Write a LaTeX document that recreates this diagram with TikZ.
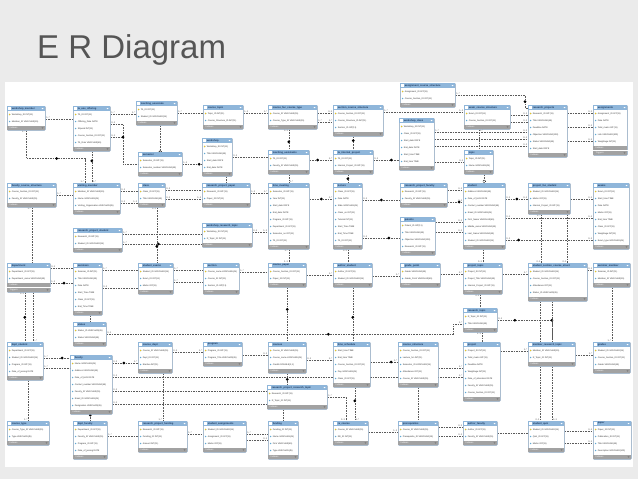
\documentclass[tikz,border=0pt]{standalone}
\usepackage{fontspec}
\setmainfont{Liberation Sans}
\usetikzlibrary{shapes.geometric}

\definecolor{pagebg}{HTML}{EBEBEB}
\definecolor{titlegray}{HTML}{555555}
\definecolor{headc}{HTML}{8FB6DA}
\definecolor{tabline}{HTML}{7F9AB6}
\definecolor{footc}{HTML}{A2A2A2}
\definecolor{tabtext}{HTML}{333333}
\definecolor{titleblue}{HTML}{17365D}
\definecolor{relc}{HTML}{5A5A5A}
\definecolor{cardc}{HTML}{444444}
\definecolor{icoc}{HTML}{5FA8D3}
\definecolor{keyc}{HTML}{F0C419}

\pgfdeclarelayer{back}
\pgfdeclarelayer{links}
\pgfsetlayers{back,links,main}

% table: name, x, y, width, rows, title, fields, footer bars
\newcommand{\ertable}[8]{%
  \pgfmathsetmacro{\tabh}{10+7*#5+5*(#8-1)}%
  \node[tabbody, minimum width=#4pt, minimum height=\tabh pt] (#1) at (#2,#3) {};
  \fill[headbar] ([xshift=0.3pt,yshift=-0.3pt]#1.north west) rectangle ([xshift=-0.3pt,yshift=-5pt]#1.north east);
  \fill[white] ([xshift=1.2pt,yshift=-1.3pt]#1.north west) rectangle ++(2.4pt,-2.4pt);
  \fill[white] ([xshift=-4pt,yshift=-2pt]#1.north east) -- ++(2.2pt,0pt) -- ++(-1.1pt,-1.2pt) -- cycle;
  \node[tabtitle] at ([xshift=4.6pt,yshift=-2.55pt]#1.north west) {#6};
  \foreach \r [count=\i] in {#7} {
    \pgfmathsetmacro{\ry}{-1.5-7*\i}
    \node[ico] at ([xshift=2.6pt,yshift=\ry pt]#1.north west) {};
    \node[tabrow] at ([xshift=4.6pt,yshift=\ry pt]#1.north west) {\r};
  }
  \node[keyico] at ([xshift=2.6pt,yshift=-8.5pt]#1.north west) {};
  \pgfmathsetmacro{\tabf}{5*#8}%
  \pgfmathsetmacro{\tabg}{5*#8-2.5}%
  \fill[footbar] ([xshift=0.3pt,yshift=\tabf pt]#1.south west) rectangle ([xshift=-0.3pt,yshift=0.3pt]#1.south east);
  \node[footlabel] at ([xshift=2.5pt,yshift=\tabg pt]#1.south west) {Indexes};
  \ifnum#8>1
    \draw[white, line width=0.3pt] ([yshift=5pt]#1.south west) -- ([yshift=5pt]#1.south east);
    \node[footlabel] at ([xshift=2.5pt,yshift=2.5pt]#1.south west) {Triggers};
  \fi
  \fill[black!55] ([xshift=-4pt,yshift=3.1pt]#1.south east) -- ++(2pt,0pt) -- ++(-1pt,-1.2pt) -- cycle;
}

\begin{document}
\begin{tikzpicture}[x=1pt, y=-1pt,
  tabbody/.style={draw=tabline, fill=white, line width=0.5pt, rounded corners=0.8pt, anchor=north west, inner sep=0pt},
  headbar/.style={fill=headc},
  footbar/.style={fill=footc},
  tabtitle/.style={anchor=west, inner sep=0pt, font=\fontsize{2.5}{3}\selectfont\bfseries, text=titleblue},
  tabrow/.style={anchor=west, inner sep=0pt, font=\fontsize{2.2}{3}\selectfont, text=tabtext},
  footlabel/.style={anchor=west, inner sep=0pt, font=\fontsize{2.2}{3}\selectfont, text=white},
  ico/.style={diamond, fill=icoc, inner sep=0pt, minimum size=1.8pt},
  keyico/.style={ico, fill=keyc},
  rel/.style={draw=relc, dash pattern=on 1.6pt off 1pt, line width=0.5pt},
  card/.style={font=\fontsize{2.3}{2.6}\selectfont, text=cardc, inner sep=0.5pt},
  lbs/.style={card, pos=0, anchor=south west},
  lbe/.style={card, pos=1, anchor=south east},
  lvs/.style={card, pos=0, anchor=north east},
  lve/.style={card, pos=1, anchor=south east},
  lvr/.style={card, pos=1, anchor=south west},
  mk/.style={circle, fill=black, inner sep=0pt, minimum size=3pt},
  mko/.style={circle, draw=black, fill=white, line width=0.4pt, inner sep=0pt, minimum size=3pt}]
  \useasboundingbox (0,0) rectangle (638,479);

  % 1. page and panel
  \begin{pgfonlayer}{back}
    \fill[pagebg] (0,0) rectangle (638,479);
    \fill[white] (5,82) rectangle (633,467);
  \end{pgfonlayer}
  \node[anchor=base west, inner sep=0pt, font=\fontsize{33}{36}\selectfont, text=titlegray] (title) at (37,58) {E R Diagram};

  % 2. tables, top bands
  \ertable{wm}{7}{106}{38}{2}{workshop\_member}{Workshop\_ID INT(11), Member\_ID VARCHAR(15)}{1}
  \ertable{tuo}{73}{106}{37}{5}{ta\_use\_offering}{TA\_ID INT(11), Offering\_Date DATE, Stipend INT(11), Course\_Section\_ID INT(11), TA\_Role VARCHAR(45)}{1}
  \ertable{tassoc}{136}{101}{41}{2}{teaching\_associate}{TA\_ID INT(11), Student\_ID VARCHAR(15)}{1}
  \ertable{ctopic}{203}{105}{40}{2}{course\_topic}{Topic\_ID INT(11), Course\_Structure\_ID INT(11)}{1}
  \ertable{cfct}{268}{105}{49}{2}{course\_fac\_course\_type}{Course\_ID VARCHAR(15), Course\_Type\_ID VARCHAR(15)}{1}
  \ertable{scs}{333}{105}{50}{3}{section\_course\_structure}{Course\_Section\_ID INT(11), Course\_Structure\_ID INT(11), Section\_ID INT(11)}{1}
  \ertable{acs}{400}{83}{55}{2}{assignment\_course\_structure}{Assignment\_ID INT(11), Course\_Section\_ID INT(11)}{1}
  \ertable{wclass}{399}{118}{35}{6}{workshop\_class}{Workshop\_ID INT(11), Class\_ID INT(11), Start\_date DATE, End\_date DATE, Start\_time TIME, End\_time TIME}{1}
  \ertable{ecs}{464}{105}{46}{2}{exam\_course\_structure}{Exam\_ID INT(11), Course\_Section\_ID INT(11)}{1}
  \ertable{topic}{464}{150}{29}{2}{topic}{Topic\_ID INT(11), Name VARCHAR(45)}{1}
  \ertable{rproj}{528}{105}{39}{6}{research\_projects}{Research\_ID INT(11), Title VARCHAR(45), Deadline DATE, Objective VARCHAR(100), Status VARCHAR(45), Start\_date DATE}{1}
  \ertable{asg}{593}{105}{34}{5}{assignments}{Assignment\_ID INT(11), Date DATE, Total\_marks INT(11), Link VARCHAR(100), Weightage INT(11)}{2}
  \ertable{sem}{138}{152}{44}{2}{semester}{Semester\_ID INT(11), Semester\_number VARCHAR(45)}{1}
  \ertable{wshop}{202}{138}{30}{4}{workshop}{Workshop\_ID INT(11), Title VARCHAR(45), Start\_date DATE, End\_date DATE}{1}
  \ertable{tass}{268}{150}{41}{2}{teaching\_assistants}{TA\_ID INT(11), Faculty\_ID VARCHAR(15)}{1}
  \ertable{taip}{333}{150}{40}{2}{ta\_internal\_project}{TA\_ID INT(11), Internal\_Project\_ID INT(11)}{1}

  % 3. tables, middle bands
  \ertable{fcs}{7}{183}{49}{2}{faculty\_course\_structure}{Course\_Section\_ID INT(11), Faculty\_ID VARCHAR(15)}{1}
  \ertable{vmem}{73}{183}{47}{3}{visiting\_member}{Member\_ID VARCHAR(15), Name VARCHAR(45), Visiting\_Organisation VARCHAR(45)}{1}
  \ertable{cls}{138}{183}{27}{2}{class}{Class\_ID INT(11), Title VARCHAR(45)}{1}
  \ertable{rpp}{202}{183}{48}{2}{research\_project\_paper}{Research\_ID INT(11), Paper\_ID INT(11)}{1}
  \ertable{tmeet}{268}{183}{41}{8}{time\_meeting}{Semester\_ID INT(11), Year INT(11), Start\_date DATE, End\_date DATE, Program\_ID INT(11), Department\_ID INT(11), Semester\_no INT(11), TA\_ID INT(11)}{1}
  \ertable{lect}{333}{183}{29}{8}{lecture}{Class\_ID INT(11), Date DATE, Slide VARCHAR(45), Class\_no INT(11), Tutorial INT(11), Start\_Time TIME, End\_Time TIME, TA\_ID INT(11)}{1}
  \ertable{rpf}{400}{183}{47}{2}{research\_project\_faculty}{Research\_ID INT(11), Faculty\_ID VARCHAR(15)}{1}
  \ertable{stu}{463}{183}{42}{8}{student}{Address VARCHAR(45), Date\_of\_birth DATE, Contact\_number VARCHAR(45), Email\_ID VARCHAR(45), First\_Name VARCHAR(45), Middle\_name VARCHAR(45), Last\_Name VARCHAR(45), Student\_ID VARCHAR(15)}{1}
  \ertable{pfs}{528}{183}{42}{3}{project\_fac\_student}{Student\_ID VARCHAR(15), Marks INT(11), Internal\_Project\_ID INT(11)}{1}
  \ertable{exams}{593}{183}{36}{8}{exams}{Exam\_ID INT(11), Start\_time TIME, Date DATE, Marks INT(11), End\_time TIME, Class\_ID INT(11), Weightage INT(11), Exam\_type VARCHAR(45)}{1}
  \ertable{rps}{73}{228}{49}{2}{research\_project\_student}{Research\_ID INT(11), Student\_ID VARCHAR(15)}{1}
  \ertable{wrt}{202}{223}{50}{2}{workshop\_research\_topic}{Workshop\_ID INT(11), R\_Topic\_ID INT(11)}{1}
  \ertable{pat}{400}{217}{35}{4}{patents}{Patent\_ID INT(11), Title VARCHAR(45), Objective VARCHAR(100), Research\_ID INT(11)}{1}
  \ertable{dept}{7}{263}{43}{2}{department}{Department\_ID INT(11), Department\_name VARCHAR(45)}{2}
  \ertable{semi}{73}{263}{29}{6}{seminars}{Seminar\_ID INT(11), Title VARCHAR(45), Date DATE, Start\_Time TIME, Class\_ID INT(11), End\_Time TIME}{1}
  \ertable{sexam}{138}{263}{35}{3}{student\_exams}{Student\_ID VARCHAR(15), Exam\_ID INT(11), Marks INT(11)}{1}
  \ertable{sect}{203}{263}{36}{3}{section}{Course\_name VARCHAR(45), Course\_ID INT(11), Section\_ID INT(11)}{1}
  \ertable{cpaper}{268}{263}{38}{2}{course\_paper}{Course\_Section\_ID INT(11), Paper\_ID INT(11)}{1}
  \ertable{aust}{333}{263}{39}{2}{author\_student}{Author\_ID INT(11), Student\_ID VARCHAR(15)}{1}
  \ertable{gpt}{400}{263}{40}{2}{grade\_point}{Grade VARCHAR(45), Grade\_Point VARCHAR(45)}{1}
  \ertable{ptopic}{463}{263}{39}{3}{project\_topic}{Project\_ID INT(11), Project\_Title VARCHAR(45), Internal\_Project\_ID INT(11)}{1}
  \ertable{sscs}{528}{263}{59}{4}{student\_section\_course\_struct}{Student\_ID VARCHAR(15), Course\_Section\_ID INT(11), Attendance INT(11), Status\_ID VARCHAR(45)}{1}
  \ertable{smem}{593}{263}{37}{2}{seminar\_member}{Seminar\_ID INT(11), Member\_ID VARCHAR(15)}{1}
  \ertable{status}{73}{322}{33}{2}{status}{Status\_ID VARCHAR(45), Status VARCHAR(45)}{1}
  \ertable{rtopic}{463}{308}{34}{2}{research\_topic}{R\_Topic\_ID INT(11), Title VARCHAR(45)}{1}

  % 4. tables, bottom bands
  \ertable{dstu}{7}{342}{36}{4}{dept\_student}{Department\_ID INT(11), Student\_ID VARCHAR(15), Program\_ID INT(11), Date\_of\_joining DATE}{1}
  \ertable{fac}{70}{355}{42}{7}{faculty}{Name VARCHAR(45), Address VARCHAR(45), Date\_of\_birth DATE, Contact\_number VARCHAR(45), Faculty\_ID VARCHAR(15), Email\_ID VARCHAR(45), Designation VARCHAR(45)}{1}
  \ertable{cdept}{138}{342}{34}{3}{course\_dept}{Course\_ID VARCHAR(15), Dept\_ID INT(11), Elective INT(11)}{1}
  \ertable{prog}{203}{342}{39}{2}{program}{Program\_ID INT(11), Program\_Title VARCHAR(45)}{1}
  \ertable{crs}{268}{342}{38}{3}{courses}{Course\_ID VARCHAR(15), Course\_name VARCHAR(45), {Credits DOUBLE(2,1)}}{1}
  \ertable{tsch}{333}{342}{37}{5}{time\_schedule}{Start\_time TIME, End\_time TIME, Course\_Section\_ID INT(11), Day VARCHAR(45), Class\_ID INT(11)}{1}
  \ertable{cstr}{398}{342}{40}{5}{course\_structure}{Course\_Section\_ID INT(11), Lecture\_hrs INT(11), Semester\_ID VARCHAR(15), Attendance INT(11), Course\_ID VARCHAR(15)}{1}
  \ertable{proj}{463}{342}{37}{7}{project}{Project\_ID INT(11), Total\_marks INT(11), Deadline DATE, Weightage INT(11), Date\_of\_allocation DATE, Faculty\_ID VARCHAR(15), Course\_Section\_ID INT(11)}{1}
  \ertable{mrt}{528}{342}{47}{2}{member\_research\_topic}{Member\_ID VARCHAR(15), R\_Topic\_ID INT(11)}{1}
  \ertable{grades}{593}{342}{37}{3}{grades}{Student\_ID VARCHAR(15), Course\_Section\_ID INT(11), Grade VARCHAR(45)}{1}
  \ertable{rprt}{267}{385}{60}{2}{research\_project\_research\_topic}{Research\_ID INT(11), R\_Topic\_ID INT(11)}{1}
  \ertable{ctype}{7}{421}{42}{2}{course\_type}{Course\_Type\_ID VARCHAR(15), Type VARCHAR(45)}{1}
  \ertable{dfac}{73}{421}{34}{4}{dept\_faculty}{Department\_ID INT(11), Faculty\_ID VARCHAR(15), Program\_ID INT(11), Date\_of\_joining DATE}{1}
  \ertable{rpfund}{138}{421}{49}{3}{research\_project\_funding}{Research\_ID INT(11), Funding\_ID INT(11), Amount INT(11)}{1}
  \ertable{sasg}{203}{421}{43}{3}{student\_assignments}{Student\_ID VARCHAR(15), Assignment\_ID INT(11), Marks INT(11)}{1}
  \ertable{fund}{268}{421}{30}{4}{funding}{Funding\_ID INT(11), Name VARCHAR(45), Firm VARCHAR(45), Type VARCHAR(45)}{1}
  \ertable{recrs}{333}{421}{35}{2}{re\_course}{Course\_ID VARCHAR(15), RE\_ID INT(11)}{1}
  \ertable{prereq}{398}{421}{40}{2}{prerequisites}{Course\_ID VARCHAR(15), Prerequisite\_ID VARCHAR(15)}{1}
  \ertable{aufac}{463}{421}{34}{2}{author\_faculty}{Author\_ID INT(11), Faculty\_ID VARCHAR(15)}{1}
  \ertable{squiz}{528}{421}{36}{3}{student\_quiz}{Student\_ID VARCHAR(15), Quiz\_ID INT(11), Marks INT(11)}{1}
  \ertable{paper}{593}{421}{38}{4}{paper}{Paper\_ID INT(11), Publication\_ID INT(11), Title VARCHAR(45), Description VARCHAR(100)}{1}

  % 5. relationships (drawn under the tables)
  \begin{pgfonlayer}{links}
    % top band
    \draw[rel] (wm.east |- 0,119) -- (tuo.west |- 0,119) node[lbs]{1..*};
    \draw[rel] (tuo.east |- 0,114) -- (tassoc.west |- 0,114) node[lbs]{1..*} node[lbe]{1..*};
    \draw[rel] (tassoc.east |- 0,113) -- (ctopic.west |- 0,113) node[lbs]{1..*};
    \draw[rel] (ctopic.east |- 0,113) -- (cfct.west |- 0,113) node[lbs]{1..1} node[lbe]{1..*};
    \draw[rel] (cfct.east |- 0,113) -- (scs.west |- 0,113) node[lbe]{0..1};
    \draw[rel] (cfct.east |- 0,122) -- (scs.west |- 0,122) node[lbs]{1..*} node[lbe]{1..*};
    \draw[rel] (scs.east |- 0,112) -- (ecs.west |- 0,112) node[lbs]{1..*} node[lbe]{1..1};
    \draw[rel] (acs.east) -| ([xshift=-3pt]rproj.west |- 0,108) node[lbs]{1..*} node[mk, pos=0.75]{} -- (rproj.west |- 0,108);
    \draw[rel] (ecs.east |- 0,115) -- (rproj.west |- 0,115) node[lbe]{0..1};
    \draw[rel] (ecs.east |- 0,122) -- (rproj.west |- 0,122) node[lbe]{0..1};
    \draw[rel] (wclass.east |- 0,132) -- (rproj.west |- 0,132) node[lbs]{1..*} node[lbe]{0..1};
    \draw[rel] (wclass.east |- 0,139) -- (rproj.west |- 0,139) node[lbe]{0..1};
    \draw[rel] (wclass.east |- 0,146) -- (rproj.west |- 0,146) node[lbe]{0..1};
    \draw[rel] (topic.north |- ecs.south) -- (topic.north) node[card, pos=0, anchor=north west]{1..*};
    \draw[rel] (wclass.east |- 0,162) -- (topic.west |- 0,162) node[lbe]{0..1};
    \draw[rel] (rproj.east |- 0,113) -- (asg.west |- 0,113) node[lbe]{0..1};
    \draw[rel] (rproj.east |- 0,127) -- (asg.west |- 0,127) node[lbe]{0..1};
    \draw[rel] (rproj.east |- 0,141) -- (asg.west |- 0,141) node[lbe]{0..1};
    % second band
    \draw[rel] (tuo.east |- 0,124) -| ([xshift=-15pt]sem.west) node[lbs]{0..1} -- (sem.west);
    \coordinate (jta) at ([xshift=-15pt]sem.west |- 0,137);
    \draw[rel] (tuo.east |- 0,137) -- (jta) node[lbs]{0..1} node[mk, pos=1]{};
    \draw[rel] (tassoc.south -| sem.north) -- (sem.north) node[mko, pos=1]{};
    \draw[rel] (sem.east) -- (wshop.west |- sem.east) node[lbs]{1..1} node[mk, pos=0.85]{};
    \draw[rel] (wshop.east |- 0,157) -- (tass.west |- 0,157) node[lbs]{0..1};
    \draw[rel] (tass.north |- cfct.south) -- (tass.north) node[lvs]{0..1} node[mk, pos=0.6]{};
    \draw[rel] (taip.north |- scs.south) -- (taip.north) node[mk, pos=0.3]{};
    \draw[rel] (tass.east |- 0,160) -- (taip.west |- 0,160) node[mk, pos=0.35]{} node[lbe]{1..*};
    \draw[rel] (taip.east |- 0,160) -- (wclass.west |- 0,160) node[lbs]{0..1} node[mk, pos=0.7]{};
    % third band
    \draw[rel] (fcs.east |- 0,195) -- (vmem.west |- 0,195) node[lbs]{1..*};
    \draw[rel] (fcs.south) -- (fcs.south |- dept.north) node[lvs]{1..*};
    \draw[rel] (wm.south) -- ++(0,28) node[lvs]{1..*} -| ([xshift=-12pt]vmem.north) node[lve]{1..*} node[mk, pos=0.26]{};
    \draw[rel] (tuo.south) -- (tuo.south |- vmem.north) node[mk, pos=0.3]{} node[lvr]{1..*};
    \draw[rel] (vmem.east |- 0,191) -- (cls.west |- 0,191) node[lbs]{0..1};
    \draw[rel] (vmem.east |- 0,203) -- (cls.west |- 0,203) node[lbs]{0..1} node[lbe]{1..1};
    \draw[rel] (cls.east |- 0,190) -- (rpp.west |- 0,190) node[lbs]{0..1};
    \draw[rel] (cls.east |- 0,199) -- (rpp.west |- 0,199) node[lbs]{0..1} node[lbe]{1..1};
    \draw[rel] (rpp.east |- 0,193) -- (tmeet.west |- 0,193) node[lbs]{1..1} node[lbe]{1..*};
    \draw[rel] (tmeet.east |- 0,199) -- (lect.west |- 0,199) node[mk, pos=0.5]{} node[lbe]{1..*};
    \draw[rel] (wrt.east |- 0,232) -- (tmeet.west |- 0,232) node[lbs]{0..1} node[lbe]{1..1};
    \draw[rel] (rps.east |- 0,234) -- (wrt.west |- 0,234) node[lbs]{1..*};
    \draw[rel] (rps.east |- 0,244) -- (wrt.west |- 0,244) node[lbs]{1..*} node[mk, pos=0.45]{};
    \draw[rel] ([xshift=5pt]cls.south) -- ([xshift=5pt]cls.south |- sexam.north) node[lvs]{0..1} node[mk, pos=0.7]{};
    \draw[rel] (tmeet.south) -- (tmeet.south |- cpaper.north) node[lvs]{1..*} node[lve]{1..1};
    \draw[rel] (lect.south) -- (lect.south |- aust.north) node[lvs]{0..1};
    \draw[rel] (lect.east |- 0,200) -- (rpf.west |- 0,200) node[lbs]{0..1} node[mk, pos=0.5]{};
    \draw[rel] (lect.east |- 0,238) -- (pat.west |- 0,238) node[lbs]{0..1} node[mk, pos=0.7]{};
    \draw[rel] (rpf.east |- 0,190) -- (stu.west |- 0,190) node[lbe]{0..1};
    \draw[rel] (rpf.east |- 0,202) -- (stu.west |- 0,202) node[lbe]{0..1} node[mk, pos=0.75]{};
    \draw[rel] (pat.east |- 0,222) -- (stu.west |- 0,222) node[lbe]{0..1};
    \draw[rel] (pat.east |- 0,232) -- (stu.west |- 0,232) node[lbe]{0..1};
    \draw[rel] (stu.east |- 0,199) -- (pfs.west |- 0,199) node[lbs]{0..1} node[mk, pos=0.5]{} node[lbe]{0..1};
    \draw[rel] (pfs.east |- 0,199) -- (exams.west |- 0,199) node[lbe]{0..1};
    \draw[rel] (stu.east |- 0,218) -- (exams.west |- 0,218) node[lbs]{0..1} node[lbe]{0..1};
    \draw[rel] (stu.east |- 0,240) -- (exams.west |- 0,240) node[lbs]{0..1} node[mk, pos=0.15]{} node[lbe]{0..1};
    \draw[rel] ([xshift=-8pt]pfs.south) -- ([xshift=-8pt]pfs.south |- sscs.north) node[lvs]{1..*} node[lve]{0..1};
    \draw[rel] ([xshift=18pt]pfs.south) -- ([xshift=18pt]pfs.south |- sscs.north) node[lve]{0..1};
    \draw[rel] (ptopic.north |- stu.south) -- (ptopic.north) node[lve]{0..1};
    \draw[rel] (stu.north |- topic.south) -- (stu.north) node[mko, pos=0.8]{};
    % fourth band
    \draw[rel] (dept.east |- 0,268) -- (semi.west |- 0,268) node[lbs]{0..1};
    \draw[rel] (dept.east |- 0,283) -- (semi.west |- 0,283) node[lbs]{1..1} node[mk, pos=0.6]{};
    \draw[rel] (semi.east |- 0,270) -- (sexam.west |- 0,270) node[lbs]{1..*};
    \draw[rel] (semi.east |- 0,288) -- (sexam.west |- 0,288) node[lbs]{0..1};
    \draw[rel] (sexam.east |- 0,270) -- (sect.west |- 0,270) node[lbs]{1..*};
    \draw[rel] (sexam.east |- 0,282) -- (sect.west |- 0,282) node[lbs]{1..*};
    \draw[rel] (sect.east |- 0,272) -- (cpaper.west |- 0,272) node[lbs]{1..*};
    \draw[rel] (cpaper.east |- 0,275) -- (aust.west |- 0,275) node[lbe]{1..*};
    \draw[rel] (aust.east |- 0,276) -- (gpt.west |- 0,276) node[lbe]{1..*};
    \draw[rel] (gpt.east |- 0,274) -- (ptopic.west |- 0,274) node[lbe]{1..*};
    \draw[rel] (ptopic.east |- 0,274) -- (sscs.west |- 0,274) node[lbe]{1..*};
    \draw[rel] (sscs.east |- 0,270) -- (smem.west |- 0,270) node[lbe]{0..1};
    \draw[rel] (semi.south -| status.north) -- (status.north);
    \draw[rel] (status.east) -| ([xshift=-10pt]rtopic.west |- 0,324) node[lbs]{0..1} node[mk, pos=0.32]{} -- (rtopic.west |- 0,324) node[lbe]{1..*};
    \draw[rel] (ptopic.south -| rtopic.north) -- (rtopic.north) node[lvs]{0..1};
    \draw[rel] (rtopic.east) -| (mrt.north) node[lbs]{0..1} node[mk, pos=0.16]{} node[mk, pos=0.5]{};
    \draw[rel] (rtopic.south -| proj.north) -- (proj.north) node[lvs]{1..1};
    \draw[rel] ([xshift=-6pt]squiz.north |- sscs.south) -- ([xshift=-6pt]squiz.north) node[lve]{0..1};
    \draw[rel] ([xshift=6pt]squiz.north |- sscs.south) -- ([xshift=6pt]squiz.north) node[lvr]{0..1};
    \draw[rel] (smem.south) -- (grades.north) node[lve]{1..*};
    \draw[rel] (mrt.east |- 0,355) -- (grades.west |- 0,355) node[lbe]{1..*};
    \draw[rel] (proj.east |- 0,351) -- (mrt.west |- 0,351) node[lbe]{1..*};
    \draw[rel] (cstr.east |- 0,368) -- (proj.west |- 0,368) node[lbe]{1..*};
    % bottom bands
    \draw[rel] ([xshift=-4pt]dept.south) -- ([xshift=-4pt]dept.south |- dstu.north) node[lvs]{0..1} node[mk, pos=0.5]{};
    \draw[rel] ([xshift=4pt]dept.south) -- ([xshift=4pt]dept.south |- dstu.north) node[lvr]{1..*};
    \draw[rel] (dstu.east |- 0,358) -- (fac.west |- 0,358) node[lbs]{1..*} node[mk, pos=0.7]{};
    \draw[rel] (dstu.east |- 0,368) -- (fac.west |- 0,368) node[lbs]{1..*};
    \draw[rel] (fac.east |- 0,363) -- (cdept.west |- 0,363) node[lbs]{0..1} node[mk, pos=0.45]{} node[lbe]{1..*};
    \draw[rel] (fac.east |- 0,377) -- (proj.west |- 0,377) node[lbs]{0..1} node[lbe]{1..*};
    \draw[rel] (fac.east |- 0,391) -- (rprt.west |- 0,391) node[lbs]{0..1};
    \draw[rel] (fac.east |- 0,404) -- (rprt.west |- 0,404) node[lbs]{0..1};
    \draw[rel] (cdept.east |- 0,352) -- (prog.west |- 0,352) node[lbs]{0..1} node[lbe]{1..*};
    \draw[rel] (prog.east |- 0,355) -- (crs.west |- 0,355) node[lbe]{0..1};
    \draw[rel] (crs.east |- 0,360) -- (tsch.west |- 0,360) node[lbs]{0..1} node[lbe]{1..*};
    \draw[rel] (tsch.east |- 0,362) -- (cstr.west |- 0,362) node[mk, pos=0.75]{} node[lbe]{1..*};
    \draw[rel] (cpaper.south) -- (crs.north) node[mk, pos=0.4]{};
    \draw[rel] (aust.south) -- (aust.south |- tsch.north) node[mk, pos=0.55]{};
    \draw[rel] (lect.north |- taip.south) -- (lect.north) node[mk, pos=0.5]{};
    \draw[rel] (tass.south) -- (tmeet.north) node[lvr]{1..*};
    \draw[rel] (rpp.north |- wshop.south) -- (rpp.north);
    \draw[rel] (dstu.south -| ctype.north) -- (ctype.north) node[lve]{1..*};
    \draw[rel] (dfac.north |- fac.south) -- (dfac.north) node[mk, pos=0.1]{};
    \draw[rel] (dfac.east |- 0,436) -- (rpfund.west |- 0,436) node[lbs]{1..*};
    \draw[rel] (rpfund.north |- cdept.south) -- (rpfund.north) node[lve]{1..*};
    \draw[rel] (rpfund.east |- 0,434) -- (sasg.west |- 0,434) node[lbs]{1..*};
    \draw[rel] (sasg.east |- 0,434) -- (fund.west |- 0,434) node[lbs]{1..*};
    \draw[rel] (sasg.east |- 0,440) -- (fund.west |- 0,440) node[lbe]{0..1};
    \draw[rel] (crs.south) -- (crs.south |- rprt.north) node[mk, pos=0.5]{};
    \draw[rel] (fund.north |- rprt.south) -- (fund.north);
    \draw[rel] (rprt.east) -| ([xshift=-5pt]recrs.north) node[lbs]{1..*} node[lve]{0..1};
    \draw[rel] ([xshift=4pt]recrs.north |- tsch.south) -- ([xshift=4pt]recrs.north) node[mk, pos=0.4]{} node[lvr]{1..*};
    \draw[rel] (recrs.east |- 0,432) -- (prereq.west |- 0,432) node[lbe]{1..1};
    \draw[rel] (cstr.south) -- (prereq.north);
    \draw[rel] (prereq.east |- 0,427) -- (aufac.west |- 0,427) node[lbe]{0..1};
    \draw[rel] (prereq.east |- 0,436) -- (aufac.west |- 0,436) node[lbe]{0..1};
    \draw[rel] (aufac.east |- 0,433) -- (squiz.west |- 0,433);
    \draw[rel] (squiz.east |- 0,431) -- (paper.west |- 0,431) node[lbe]{0..1};
    \draw[rel] (squiz.east |- 0,443) -- (paper.west |- 0,443) node[lbe]{0..1};
  \end{pgfonlayer}
\end{tikzpicture}
\end{document}
